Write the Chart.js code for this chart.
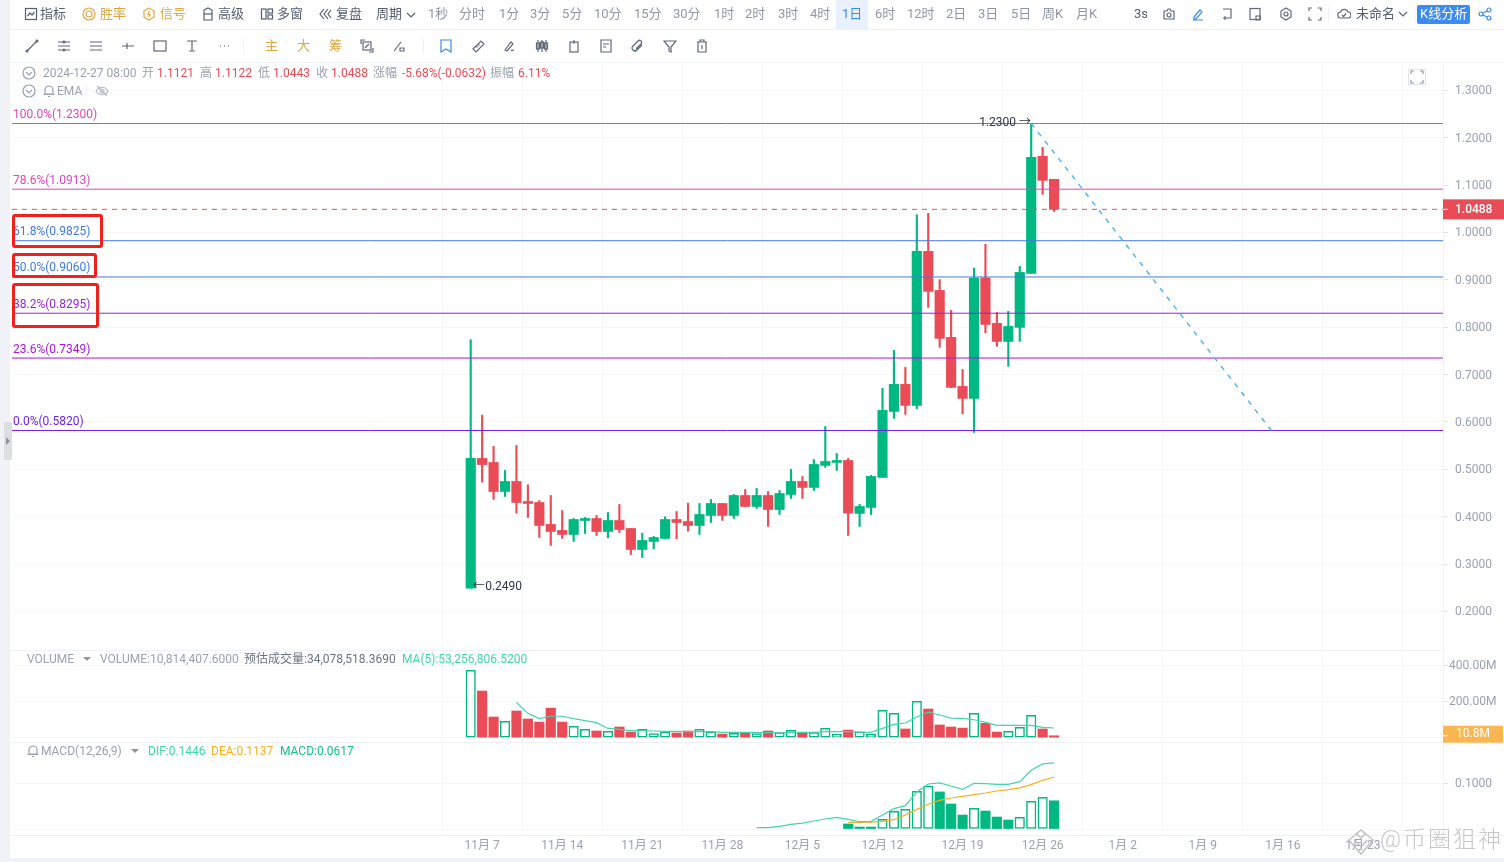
<!DOCTYPE html>
<html>
<head>
<meta charset="utf-8">
<script src="https://cdn.jsdelivr.net/npm/chart.js@4"></script>
<style>
html, body { margin: 0; padding: 0; background: #fff; overflow: hidden; }
body { width: 1504px; height: 862px; position: relative; font-family: Roboto, "Noto Sans CJK SC", sans-serif; }
#stage { position: absolute; left: 0; top: 0; width: 1504px; height: 862px; }
canvas { position: absolute; left: 0; top: 0; }
.t { position: absolute; white-space: nowrap; line-height: 16px; height: 16px; font-size: 12px; color: #8f96a3; }
.bar13 { font-size: 13px; }
.line { position: absolute; background: #eff1f4; }
.redbox { position: absolute; border: 3px solid #f0201c; border-radius: 3px; box-sizing: border-box; }
svg.i { position: absolute; fill: none; stroke-width: 1.2; }
</style>
</head>
<body>
<div id="stage">
  <div class="line" style="left:0;top:0;width:10px;height:862px;background:#f1f2f8"></div>
  <div class="line" style="left:4px;top:422px;width:8px;height:38px;background:#dcdee2;border-radius:2px"></div>
  <div class="line" style="left:10px;top:29px;width:1494px;height:1px"></div>
  <div class="line" style="left:10px;top:62px;width:1494px;height:1px"></div>
  <div class="line" style="left:10px;top:650px;width:1433px;height:1px"></div>
  <div class="line" style="left:10px;top:742px;width:1433px;height:1px"></div>
  <div class="line" style="left:10px;top:835px;width:1494px;height:1px"></div>
  <div class="line" style="left:0;top:858px;width:1504px;height:4px;background:#f1f2f8"></div>
  <div class="line" style="left:836px;top:0;width:32px;height:29px;background:#e8f1fd"></div>
  <div class="line" style="left:1417px;top:5px;width:53px;height:19px;background:#3b8bf0;border-radius:2px"></div>
  <canvas id="klineChart" width="1504" height="862"></canvas>
  <div id="labels"></div>
  <div class="redbox" style="left:12px;top:214px;width:91px;height:34px"></div>
  <div class="redbox" style="left:12px;top:253px;width:85px;height:25px"></div>
  <div class="redbox" style="left:12px;top:283px;width:87px;height:45px"></div>
  <svg class="i" width="28" height="30" viewBox="0 0 28 30" style="left:1347px;top:827px;stroke:#c2c2c2;stroke-width:1.5"><path d="M2 13L14 3l12 10-12 14zM8 13l6 7 6-7M9 6l5 5 5-5"/></svg>
  <div class="t" style="left:1380px;top:827px;height:26px;line-height:26px;font-size:23px;font-weight:300;color:#c6c6c6;letter-spacing:2px;text-shadow:0 0 2px #fff,0 0 2px #fff">@币圈狙神</div>
</div>

<script>
// ===== DATA =====
const candleDates = [
    '11-06','11-07','11-08','11-09','11-10','11-11','11-12','11-13','11-14','11-15','11-16','11-17','11-18',
    '11-19','11-20','11-21','11-22','11-23','11-24','11-25','11-26','11-27','11-28','11-29','11-30','12-01',
    '12-02','12-03','12-04','12-05','12-06','12-07','12-08','12-09','12-10','12-11','12-12','12-13','12-14',
    '12-15','12-16','12-17','12-18','12-19','12-20','12-21','12-22','12-23','12-24','12-25','12-26','12-27'
];
const opens = [
    0.2490,0.5230,0.5145,0.4533,0.4744,0.4321,0.4300,0.3836,0.3709,0.3625,0.3920,0.3962,0.3688,
    0.3920,0.3751,0.3308,0.3477,0.3540,0.3941,0.3899,0.3815,0.4026,0.4279,0.4026,0.4448,0.4216,
    0.4448,0.4152,0.4469,0.4744,0.4617,0.5082,0.5145,0.5187,0.4069,0.4196,0.4829,0.6222,0.6793,
    0.6349,0.9601,0.8777,0.7785,0.6750,0.6497,0.9038,0.8081,0.7700,0.7996,0.9136,1.1607,1.1121
];
const highs = [
    0.7735,0.6144,0.5483,0.4976,0.5504,0.4673,0.4342,0.4448,0.4131,0.3962,0.3983,0.4026,0.4089,
    0.4258,0.3751,0.3653,0.3582,0.3998,0.4110,0.4286,0.4279,0.4364,0.4279,0.4469,0.4575,0.4596,
    0.4533,0.4554,0.4997,0.4849,0.5208,0.5905,0.5335,0.5229,0.4259,0.4871,0.6708,0.7510,0.7151,
    1.0375,1.0403,0.9003,0.8355,0.7109,0.9249,0.9749,0.8313,0.8334,0.9284,1.2300,1.1797,1.1122
];
const lows = [
    0.2490,0.4730,0.4364,0.4427,0.4075,0.3983,0.3561,0.3392,0.3540,0.3477,0.3646,0.3604,0.3554,
    0.3667,0.3202,0.3139,0.3322,0.3540,0.3533,0.3695,0.3625,0.3878,0.3920,0.3962,0.4216,0.4174,
    0.3794,0.4047,0.4385,0.4385,0.4554,0.5039,0.4976,0.3604,0.3794,0.4047,0.4829,0.6075,0.6159,
    0.6279,0.8418,0.7574,0.6729,0.6173,0.5779,0.7883,0.7595,0.7173,0.7700,0.9136,1.0804,1.0443
];
const closes = [
    0.5230,0.5100,0.4533,0.4744,0.4300,0.4279,0.3815,0.3688,0.3625,0.3941,0.3962,0.3688,0.3920,
    0.3730,0.3308,0.3498,0.3561,0.3941,0.3878,0.3815,0.4047,0.4279,0.4026,0.4448,0.4216,0.4448,
    0.4152,0.4490,0.4744,0.4617,0.5103,0.5166,0.5187,0.4075,0.4217,0.4850,0.6244,0.6793,0.6349,
    0.9601,0.8756,0.7764,0.6729,0.6497,0.9038,0.8059,0.7700,0.8017,0.9157,1.1586,1.1100,1.0488
];
// millions
const volumes = [
    371,257,114,90,147,103,86,163,86,62,46,37,35,
    59,31,46,22,33,26,37,46,33,20,24,26,22,
    37,28,40,26,28,51,18,42,33,18,151,134,48,
    200,158,70,59,53,134,79,31,35,57,123,48,10.8
];
const maStart = 4;
const maVolumes = [
    194,134,105,118,118,105,94,83,51,46,39,39,37,35,35,33,33,33,29,29,29,28,
    28,28,29,29,29,33,33,33,31,29,51,73,81,114,141,125,108,106,99,84,68,68,68,68,57,53.3
];
const difStart = 25;
const difValues = [
    0.0029,0.0029,0.0058,0.0102,0.0131,0.0175,0.0219,0.0255,0.0211,0.0160,0.0168,0.0306,0.0445,
    0.0510,0.0810,0.0984,0.1006,0.0940,0.0868,0.0999,0.0991,0.0977,0.0977,0.1035,0.1283,0.1422,0.1446
];
const macdStart = 33;
const deaValues = [
    0.0146,0.0146,0.0153,0.0168,0.0204,0.0306,0.0430,0.0540,0.0627,
    0.0678,0.0714,0.0751,0.0787,0.0831,0.0860,0.0897,0.0970,0.1064,0.1137
];
const macdValues = [
    0.0110,0.0044,0.0044,0.0210,0.0386,0.0430,0.0824,0.0940,0.0810,
    0.0547,0.0306,0.0452,0.0394,0.0262,0.0197,0.0255,0.0605,0.0693,0.0617
];
const fibLevels = [1.2300,1.0913,0.9825,0.9060,0.8295,0.7349,0.5820];
const fibNames = ['100.0%(1.2300)','78.6%(1.0913)','61.8%(0.9825)','50.0%(0.9060)','38.2%(0.8295)','23.6%(0.7349)','0.0%(0.5820)'];
const fibColors = ['#df45bd','#df45bd','#4279e0','#4279e0','#9a1fd8','#a916e2','#6f1fe8'];
const trendDays = [49,70];
const trendPrices = [1.2300,0.5820];
const lastPrice = 1.0488;
const lastVolume = 10.8;
const priceTicks = [1.3,1.2,1.1,1.0,0.9,0.8,0.7,0.6,0.5,0.4,0.3,0.2];
const volumeTicks = [400,200,0];
const macdTicks = [0.1,0];
const dayTicks = [1,8,15,22,29,36,43,50,57,64,71,78];
const dayLabels = ['11月 7','11月 14','11月 21','11月 28','12月 5','12月 12','12月 19','12月 26','1月 2','1月 9','1月 16','1月 23'];

// ===== COLORS =====
const GREEN = '#00b982';
const RED = '#ea4c57';
const TICK = '#9aa1ad';
const GRID = '#f6f7f9';
const TEAL = '#3fd6ae';
const ORANGE = '#f5b021';
const BLUE = '#3b8bf0';
const GOLD = '#dfa73f';
const ICON = '#5f6877';

// ===== HEADER TEXT =====
const toolbarText = [
    ['指标',40,'#555e6e'],['胜率',100,GOLD],['信号',160,GOLD],['高级',218,'#555e6e'],['多窗',277,'#555e6e'],['复盘',336,'#555e6e'],['周期',376,'#555e6e'],
    ['1秒',428],['分时',459],['1分',499],['3分',530],['5分',562],['10分',594],['15分',634],['30分',673],['1时',714],['2时',745],['3时',778],['4时',810],
    ['1日',842,BLUE],['6时',875],['12时',907],['2日',946],['3日',978],['5日',1011],['周K',1042],['月K',1076],
    ['3s',1134,'#555e6e'],['未命名',1356,'#555e6e'],['K线分析',1420,'#fff']
];
const drawText = [['主',265],['大',297],['筹',329]];
const infoText = [
    ['2024-12-27 08:00',43,TICK],['开',142,TICK],['1.1121',157,RED],['高',200,TICK],['1.1122',215,RED],['低',258,TICK],['1.0443',273,RED],
    ['收',316,TICK],['1.0488',331,RED],['涨幅',373,TICK],['-5.68%(-0.0632)',402,RED],['振幅',490,TICK],['6.11%',518,RED]
];
const volText = [
    ['VOLUME',27,TICK],['VOLUME:10,814,407.6000',100,TICK],['预估成交量:34,078,518.3690',244,'#6b7280'],['MA(5):53,256,806.5200',402,TEAL]
];
const macdText = [
    ['MACD(12,26,9)',41,TICK],['DIF:0.1446',148,TEAL],['DEA:0.1137',211,ORANGE],['MACD:0.0617',280,'#14c08f']
];

const labelsDiv = document.getElementById('labels');
function addText(list, top, cls) {
    list.forEach(([txt, left, color]) => {
        const s = document.createElement('span');
        s.className = 't ' + (cls || '');
        s.style.left = left + 'px';
        s.style.top = top + 'px';
        if (color) s.style.color = color;
        s.innerText = txt;
        labelsDiv.appendChild(s);
    });
}
addText(toolbarText, 6, 'bar13');
addText(drawText.map(d => [d[0], d[1], GOLD]), 38, 'bar13');
addText(infoText, 65);
addText([['EMA',57,TICK]], 83);
addText(volText, 651);
addText(macdText, 743);

// ===== ICONS =====
const icons = {
    chart: '<rect x="1.5" y="1.5" width="11" height="11"/><path d="M3.5 9l2.5-3 2 2 2.5-3"/>',
    coin: '<circle cx="7" cy="7" r="6"/><circle cx="7" cy="7" r="3"/>',
    hex: '<path d="M7 1l5 3v6l-5 3-5-3V4z"/><path d="M7.5 4L6 7.5h2L6.5 10"/>',
    calendar: '<path d="M3 13V3l4-2 4 2v10z"/><path d="M3 7h8"/>',
    panes: '<rect x="1.5" y="2" width="4.5" height="10"/><rect x="8" y="2" width="4.5" height="4"/><rect x="8" y="8" width="4.5" height="4"/>',
    replay: '<path d="M6 2L2 7l4 5M10 2L6 7l4 5M13 3L10 7l3 4"/>',
    chevron: '<path d="M3 5l4 4 4-4"/>',
    circleDown: '<circle cx="7" cy="7" r="6"/><path d="M4 6l3 3 3-3"/>',
    bell: '<path d="M3 10V6a4 4 0 0 1 8 0v4zM1.5 10.5h11M6 12.5h2"/>',
    eye: '<path d="M1 7c3-5 9-5 12 0-3 5-9 5-12 0z"/><circle cx="7" cy="7" r="2"/><path d="M2 2l10 10"/>',
    camera: '<path d="M2 4h3l1-2h2l1 2h3v8H2z"/><circle cx="7" cy="8" r="2"/>',
    pencil: '<path d="M3 10l6-7 2 2-6 7H3zM2 13h10"/>',
    plusBox: '<path d="M4 2h8v9H8M6 9v4M4 11h4"/>',
    save: '<rect x="2" y="1.5" width="10" height="11"/><path d="M8 9h4v4H8z"/>',
    nut: '<path d="M7 1l5 3v6l-5 3-5-3V4z"/><circle cx="7" cy="7" r="2"/>',
    full: '<path d="M1 4V1h3M10 1h3v3M13 10v3h-3M4 13H1v-3"/>',
    cloud: '<path d="M4 11a3 3 0 0 1-.5-6A4 4 0 0 1 11 5a3 3 0 0 1 0 6z"/><path d="M5 8l1.5 1.5L9 6.5"/>',
    share: '<circle cx="3" cy="7" r="2"/><circle cx="11" cy="3" r="2"/><circle cx="11" cy="11" r="2"/><path d="M5 6l4-2M5 8l4 2"/>',
    line: '<path d="M2 12L12 2"/><circle cx="2" cy="12" r="1"/><circle cx="12" cy="2" r="1"/>',
    hlines: '<path d="M1 3h12M1 7h12M1 11h12"/><circle cx="7" cy="3" r="1"/><circle cx="7" cy="11" r="1"/>',
    stack: '<path d="M1 3h12M1 7h12M1 11h12"/>',
    cross: '<path d="M1 7h12M6 4v6"/>',
    rect: '<rect x="1" y="2" width="12" height="10"/>',
    text: '<path d="M2 2h10M7 2v10M4 12h6"/>',
    dots: '<path d="M3 7h.6M7 7h.6M11 7h.6" stroke-width="2"/>',
    sync: '<rect x="3" y="3" width="8" height="8"/><path d="M1 5V1h4M13 9v4H9M5 9l4-4"/>',
    cut: '<path d="M2 12L9 3M8 9h4v3H8z"/>',
    flag: '<path d="M2 1h10v12L7 10l-5 3z"/>',
    ruler: '<path d="M2 10l8-8 3 3-8 8zM5 7l1.5 1.5M7 5l1.5 1.5"/>',
    pen: '<path d="M2 11l6-8 2 2-6 7zM8 12c1-2 2 0 3-1"/>',
    bars: '<path d="M3 1v12M7 1v12M11 1v12"/><rect x="1.5" y="4" width="3" height="6"/><rect x="5.5" y="3" width="3" height="6"/><rect x="9.5" y="4" width="3" height="6"/>',
    timer: '<rect x="3" y="3" width="8" height="10"/><path d="M7 1v4"/>',
    note: '<path d="M2 1h10v12H2zM4 5h6M4 8h3"/>',
    clip: '<path d="M11 6l-5 5a2.5 2.5 0 0 1-4-4l5-5a2 2 0 0 1 3 3l-5 5"/>',
    funnel: '<path d="M1 2h12L8 8v5l-2-1V8z"/>',
    trash: '<path d="M2 3h10M5 3V1h4v2M3 3v10h8V3M7 6v4"/>'
};
const iconPlaces = [
    ['chart',24,7,'#555e6e'],['coin',82,7,GOLD],['hex',142,7,GOLD],['calendar',201,7,'#555e6e'],['panes',260,7,'#555e6e'],['replay',318,7,'#555e6e'],['chevron',404,8,'#555e6e'],
    ['camera',1162,7],['pencil',1191,7,BLUE],['plusBox',1219,7],['save',1248,7],['nut',1279,7],['full',1308,7],['cloud',1337,7],['chevron',1396,7],['share',1478,7,BLUE],
    ['line',25,39],['hlines',57,39],['stack',89,39],['cross',121,39],['rect',153,39],['text',185,39],['dots',217,39],
    ['sync',360,39],['cut',392,39],['flag',439,39,BLUE],['ruler',471,39],['pen',503,39],['bars',535,39],['timer',567,39],['note',599,39],['clip',631,39],['funnel',663,39],['trash',695,39],
    ['circleDown',22,66,TICK],['circleDown',22,84,TICK],['bell',42,84,TICK],['eye',95,84,'#b4b9c2'],['full',1410,70,'#8f96a3'],['bell',26,744,TICK]
];
iconPlaces.forEach(([name, x, y, color]) => {
    labelsDiv.insertAdjacentHTML('beforeend',
        `<svg class="i" width="14" height="14" viewBox="0 0 14 14" style="left:${x}px;top:${y}px;stroke:${color || ICON}">${icons[name]}</svg>`);
});
[[243,39,14],[423,39,14],[1328,6,16],[86,85,12]].forEach(([x, y, h]) => {
    labelsDiv.insertAdjacentHTML('beforeend', `<div class="line" style="left:${x}px;top:${y}px;width:1px;height:${h}px"></div>`);
});
labelsDiv.insertAdjacentHTML('beforeend', '<div style="position:absolute;left:1408px;top:69px;width:18px;height:16px;border:1px solid #dfe2e8;box-sizing:border-box"></div>');
labelsDiv.insertAdjacentHTML('beforeend', `<svg class="i" width="10" height="6" style="left:82px;top:656px;fill:#8f96a3;stroke:none"><path d="M1 1h8L5 5z"/></svg>`);
labelsDiv.insertAdjacentHTML('beforeend', `<svg class="i" width="10" height="6" style="left:130px;top:748px;fill:#8f96a3;stroke:none"><path d="M1 1h8L5 5z"/></svg>`);
labelsDiv.insertAdjacentHTML('beforeend', `<svg class="i" width="6" height="10" style="left:5px;top:436px;fill:#8a8f99;stroke:none"><path d="M1 1l4 4-4 4z"/></svg>`);

// ===== DATASETS =====
const isUp = i => closes[i] >= opens[i];
const macdRising = i => i > 0 && macdValues[i] > macdValues[i - 1];
const series = (values, start) => values.map((y, i) => ({ x: i + start, y }));

const X_MIN = -40.1;
const X_MAX = 85.0;

function barSet(data, yAxisID, thickness, colorFn, order, hollowFn) {
    return {
        type: 'bar', data, yAxisID, order,
        grouped: false,
        barThickness: thickness,
        borderSkipped: false,
        backgroundColor: c => hollowFn && hollowFn(c.dataIndex) ? '#fff' : colorFn(c.dataIndex),
        borderColor: c => colorFn(c.dataIndex),
        borderWidth: c => hollowFn && hollowFn(c.dataIndex) ? 1.5 : 0
    };
}
function lineSet(data, yAxisID, color, width, dash) {
    return {
        type: 'line', data, yAxisID, order: 1,
        borderColor: color, borderWidth: width, borderDash: dash || [],
        pointRadius: 0, tension: 0, fill: false
    };
}

const datasets = [
    barSet(candleDates.map((d, i) => ({ x: i, y: [lows[i], highs[i]] })), 'y', 1.5, i => isUp(i) ? GREEN : RED, 4),
    barSet(candleDates.map((d, i) => ({ x: i, y: [opens[i], closes[i]] })), 'y', 9.5, i => isUp(i) ? GREEN : RED, 3),
    barSet(volumes.map((v, i) => ({ x: i, y: [0, v] })), 'yVol', 9.5, i => isUp(i) ? GREEN : RED, 3, isUp),
    barSet(macdValues.map((v, i) => ({ x: i + macdStart, y: [0, v] })), 'yMacd', 9.5, () => GREEN, 3, macdRising),
    lineSet(series(maVolumes, maStart), 'yVol', TEAL, 1.2),
    lineSet(series(difValues, difStart), 'yMacd', TEAL, 1.2),
    lineSet(series(deaValues, macdStart), 'yMacd', ORANGE, 1.2),
    lineSet([{ x: X_MIN, y: lastPrice }, { x: X_MAX, y: lastPrice }], 'y', '#e0535d', 1, [5, 5]),
    lineSet(trendDays.map((d, i) => ({ x: d, y: trendPrices[i] })), 'y', '#4db0f5', 1.4, [5, 6])
];
fibLevels.forEach((v, i) => {
    datasets.push(lineSet([{ x: X_MIN, y: v }, { x: X_MAX, y: v }], 'y', fibColors[i], 1));
});

// ===== OVERLAY TEXT ON THE CHART =====
const overlay = {
    id: 'overlay',
    afterDraw(chart) {
        const { ctx, scales } = chart;
        const y = scales.y;
        const x = scales.x;
        ctx.save();
        ctx.font = '12px Roboto, "Noto Sans CJK SC"';
        ctx.textBaseline = 'middle';
        ctx.textAlign = 'left';
        fibLevels.forEach((v, i) => {
            ctx.fillStyle = fibColors[i];
            ctx.fillText(fibNames[i], 13, y.getPixelForValue(v) - 8.5);
        });
        ctx.fillStyle = '#2d3340';
        ctx.fillText(highs[49].toFixed(4) + ' →', x.getPixelForValue(49) - 52, y.getPixelForValue(highs[49]) - 1);
        ctx.fillText('←', x.getPixelForValue(0) + 2, y.getPixelForValue(lows[0]) - 1);
        ctx.fillText(lows[0].toFixed(4), x.getPixelForValue(0) + 14.5, y.getPixelForValue(lows[0]) - 1);

        // last price / last volume tags
        const py = y.getPixelForValue(lastPrice);
        ctx.fillStyle = RED;
        ctx.fillRect(1443, py - 10, 61, 20);
        ctx.fillStyle = '#fff';
        ctx.fillRect(1443, py - 0.5, 5, 1);
        ctx.font = '500 12px Roboto';
        ctx.fillText(lastPrice.toFixed(4), 1455, py + 0.5);

        const vy = scales.yVol.getPixelForValue(lastVolume);
        ctx.fillStyle = '#fbb551';
        ctx.fillRect(1443, vy - 10, 60, 17);
        ctx.fillStyle = '#fff';
        ctx.fillRect(1443, vy - 0.5, 5, 1);
        ctx.font = '12px Roboto';
        ctx.fillText(lastVolume.toFixed(1) + 'M', 1456, vy - 1.5);
        ctx.restore();
    }
};

function yScale(min, max, ticks, weight, padding, fmt) {
    return {
        type: 'linear', position: 'right', stack: 'panes', stackWeight: weight,
        min, max,
        offset: false,
        border: { color: '#eff1f4' },
        grid: { color: GRID, tickColor: '#dfe2e8', tickLength: 5 },
        ticks: { color: TICK, font: { family: 'Roboto', size: 12 }, padding, labelOffset: 1, callback: fmt },
        afterBuildTicks: s => { s.ticks = ticks.map(value => ({ value })); },
        afterFit: s => { s.width = 61; }
    };
}

// ===== CHART =====
new Chart(document.getElementById('klineChart'), {
    type: 'bar',
    data: { datasets },
    plugins: [overlay],
    options: {
        responsive: false,
        animation: false,
        layout: { padding: { top: 64, left: 12, right: 0, bottom: 4 } },
        plugins: { legend: { display: false }, tooltip: { enabled: false } },
        scales: {
            x: {
                type: 'linear', offset: false, min: X_MIN, max: X_MAX,
                border: { color: '#eff1f4' },
                grid: { color: GRID, drawTicks: false },
                ticks: {
                    color: TICK, font: { family: 'Roboto, "Noto Sans CJK SC"', size: 12 },
                    padding: 4, autoSkip: false, maxRotation: 0,
                    callback: v => dayLabels[dayTicks.indexOf(v)] || ''
                },
                afterBuildTicks: s => { s.ticks = dayTicks.map(value => ({ value })); },
                afterFit: s => { s.height = 23; }
            },
            y: yScale(0.1186, 1.3556, priceTicks, 586, 7, v => v.toFixed(4)),
            yVol: yScale(-23.7, 483, volumeTicks, 92, 1, v => v ? v.toFixed(2) + 'M' : ''),
            yMacd: yScale(-0.013, 0.19, macdTicks, 93, 7, v => v ? v.toFixed(4) : '')
        }
    }
});
</script>
</body>
</html>
